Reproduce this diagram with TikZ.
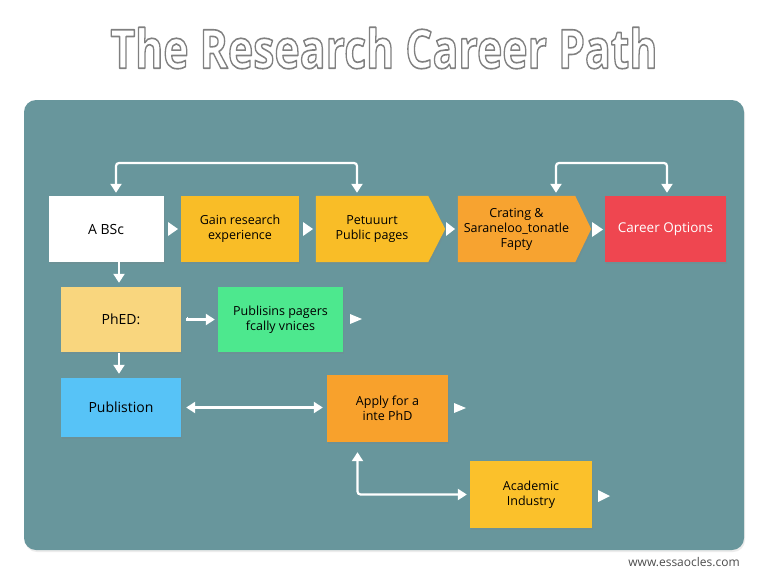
\documentclass[tikz,border=0pt]{standalone}
\usepackage{fontspec}
\setmainfont{Open Sans}
\newfontfamily\titlefont{Open Sans}
\usetikzlibrary{arrows.meta,shadows,calc}
\definecolor{panelc}{HTML}{68969C}
\definecolor{yel}{HTML}{F9BD27}
\definecolor{orng}{HTML}{F7A330}
\definecolor{redc}{HTML}{EF4650}
\definecolor{phdc}{HTML}{F9D67E}
\definecolor{grn}{HTML}{4DE88E}
\definecolor{blu}{HTML}{57C3F7}
\definecolor{appc}{HTML}{F8A12C}
\definecolor{acad}{HTML}{FBC12B}
\pgfdeclarelayer{panel}
\pgfdeclarelayer{shapes}
\pgfsetlayers{panel,shapes,main}
\newcommand\mytitle{\resizebox{547pt}{41pt}{\titlefont\bfseries\color{white}\special{pdf:literal direct 2 Tr 0.5 G 1 g 0.3 w 1 j}The Research Career Path\special{pdf:literal direct 0 Tr}}}
\begin{document}
\begin{tikzpicture}[x=1pt,y=-1pt,
  box/.style={rectangle, inner sep=0pt, align=center, text=black,
    font=\fontsize{12.5}{15}\selectfont,
    drop shadow={opacity=0.2,shadow xshift=1pt,shadow yshift=-2pt}},
  plain/.style={rectangle, inner sep=0pt, align=center, text=black,
    font=\fontsize{12.5}{15}\selectfont},
  conn/.style={draw=white, line width=2.2pt, rounded corners=3pt,
    -{Triangle[length=9pt,width=11pt]}},
  both/.style={draw=white, line width=2.2pt, rounded corners=3pt,
    {Triangle[length=9pt,width=11pt]}-{Triangle[length=9pt,width=11pt]}},
  tri/.style={fill=white}
]
\useasboundingbox (0,0) rectangle (768,576);
\begin{pgfonlayer}{panel}
  \fill[white] (0,0) rectangle (768,576);
  \fill[panelc, rounded corners=12pt, drop shadow={opacity=0.15,shadow xshift=1pt,shadow yshift=-2pt}] (24,100) rectangle (744,550);
\end{pgfonlayer}

% title
\node[inner sep=0pt] (title) at (384,48) {\mytitle};

% row 1
\node[box, fill=white, minimum width=115pt, minimum height=66pt, font=\fontsize{14}{16}\selectfont] (bsc) at (106,229) {A BSc};
\node[box, fill=yel, minimum width=118pt, minimum height=66pt] (gain) at (240,229) {Gain research\\experience};
\node[plain, minimum width=112pt, minimum height=66pt] (pub) at (372,229) {Petuuurt\\Public pages};
\node[plain, minimum width=117pt, minimum height=66pt] (crat) at (516.5,229) {Crating \&\\Saraneloo\_tonatle\\Fapty};
\node[box, fill=redc, minimum width=121pt, minimum height=66pt, text=white, font=\fontsize{13.5}{16}\selectfont] (career) at (665.5,229) {Career Options};
\begin{pgfonlayer}{shapes}
  \fill[yel, drop shadow={opacity=0.2,shadow xshift=1pt,shadow yshift=-2pt}] (pub.north west) -- (pub.north east) -- ($(pub.east)+(17,0)$) -- (pub.south east) -- (pub.south west) -- cycle;
  \fill[orng, drop shadow={opacity=0.2,shadow xshift=1pt,shadow yshift=-2pt}] (crat.north west) -- (crat.north east) -- ($(crat.east)+(16,0)$) -- (crat.south east) -- (crat.south west) -- cycle;
\end{pgfonlayer}

% row 2/3/4
\node[box, fill=phdc, minimum width=120pt, minimum height=65pt, font=\fontsize{14}{16}\selectfont] (phd) at (121,319.5) {PhED:};
\node[box, fill=grn, minimum width=125pt, minimum height=65pt] (publ) at (280.5,319.5) {Publisins pagers\\fcally vnices};
\node[box, fill=blu, minimum width=120pt, minimum height=59pt, font=\fontsize{14}{16}\selectfont] (publi) at (121,407.5) {Publistion};
\node[box, fill=appc, minimum width=121pt, minimum height=67pt] (apply) at (387.5,408.5) {Apply for a\\inte PhD};
\node[box, fill=acad, minimum width=122pt, minimum height=67pt] (acad) at (531,494.5) {Academic\\Industry};

% loop connectors
\coordinate (loopA) at (240,163);
\coordinate (loopB) at (610,163);
\draw[both, shorten <=3pt, shorten >=3pt] ([xshift=10pt]bsc.north) |- (loopA) -| ([xshift=-15pt]pub.north);
\draw[both, shorten <=3pt, shorten >=3pt] ([xshift=39.5pt]crat.north) |- (loopB) -| ([xshift=1.5pt]career.north);

% vertical arrows
\draw[conn, shorten >=4pt] ([xshift=-2pt]phd.north |- bsc.south) -- ([xshift=-2pt]phd.north);
\draw[conn, shorten <=1pt, shorten >=4pt] ([xshift=-2pt]phd.south) -- ([xshift=-2pt]publi.north);
% horizontal arrows
\draw[conn, shorten <=5pt, shorten >=3pt] (phd.east) -- (publ.west);
\draw[draw=white, line width=1pt] ($(phd.east)+(6,-3)$) -- ($(phd.east)+(6,0)$);
\draw[both, shorten <=5pt, shorten >=4pt] (publi.east) -- (publi.east -| apply.west);
\draw[both, shorten <=10pt, shorten >=3pt] ([xshift=-30pt]apply.south) |- (acad.west);

% free arrowheads
\fill[tri] (168,222) -- (178,229) -- (168,236) -- cycle;
\fill[tri] (303,222) -- (313,229) -- (303,236) -- cycle;
\fill[tri] (446,222) -- (455,229) -- (446,236) -- cycle;
\fill[tri] (592,222) -- (603,229.5) -- (592,237) -- cycle;
\fill[tri] (350,314) -- (362,319) -- (350,324) -- cycle;
\fill[tri] (454,403) -- (466,408) -- (454,413) -- cycle;
\fill[tri] (598,490) -- (610,496) -- (598,502) -- cycle;

% watermark
\node[text=black!70, font=\fontsize{12}{14}\selectfont, inner sep=0pt] (wm) at (684,562) {www.essaocles.com};
\end{tikzpicture}
\end{document}
